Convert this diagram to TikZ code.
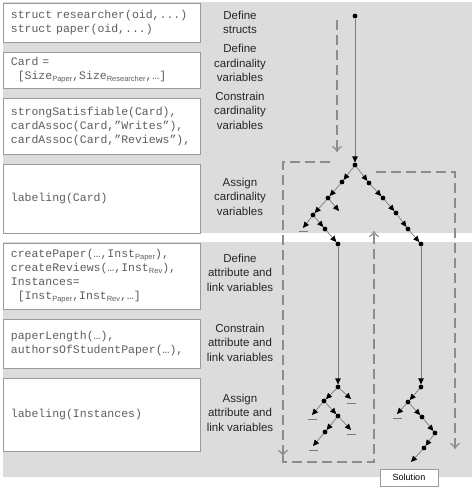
\documentclass[tikz,border=0pt]{standalone}
\usepackage{fontspec}
\setmainfont{Liberation Sans}
\setmonofont{Liberation Mono}
\newfontfamily\subfont{Liberation Sans}
\usetikzlibrary{arrows.meta}
\definecolor{panelgray}{HTML}{DCDCDC}
\definecolor{codegray}{HTML}{5E5E5E}
\definecolor{boxborder}{HTML}{9A9A9A}
\definecolor{treegray}{HTML}{7A7A7A}
\definecolor{dashgray}{HTML}{8C8C8C}
\newcommand{\csub}[1]{\raisebox{-1.8pt}{\subfont\fontsize{7.5}{8}\selectfont #1}}
\begin{document}
\begin{tikzpicture}[x=1pt,y=-1pt,
  codebox/.style={draw=boxborder,fill=white,line width=0.8pt,anchor=north west,
    minimum width=197pt,text width=182pt,align=left,inner xsep=7.5pt,
    font=\fontsize{11.5}{14}\ttfamily,text=codegray},
  lab/.style={align=center,font=\fontsize{11.5}{14.5}\selectfont,text=black!85},
  tdot/.style={circle,fill=black,inner sep=0pt,minimum size=4.8pt},
  treeedge/.style={draw=treegray,line width=0.7pt,-{Triangle[length=6pt,width=5.5pt,color=black]}},
  uline/.style={draw=treegray,line width=0.7pt},
  dpath/.style={draw=dashgray,line width=1.3pt,dash pattern=on 10pt off 5pt},
  darrow/.style={dpath,-{Classical TikZ Rightarrow[length=6pt,width=10pt,line width=1.2pt]}},
  solbox/.style={draw=boxborder,fill=white,line width=0.8pt,minimum width=58pt,minimum height=17pt,inner sep=0pt,font=\fontsize{9}{10}\selectfont}
]
\useasboundingbox (0,0) rectangle (474,488);
% panels
\fill[panelgray] (3,2) rectangle (472,233);
\fill[panelgray] (3,242) rectangle (472,477);

% code boxes
\node[codebox,minimum height=39pt] (c1) at (3,3) {struct researcher(oid,...)\\struct paper(oid,...)};
\node[codebox,minimum height=36pt] (c2) at (3,52) {Card =\\\hspace*{6.9pt}[Size\csub{Paper},Size\csub{Researcher},…]};
\node[codebox,minimum height=56pt] (c3) at (3,98) {strongSatisfiable(Card),\\cardAssoc(Card,”Writes”),\\cardAssoc(Card,”Reviews”),};
\node[codebox,minimum height=69pt] (c4) at (3,164) {labeling(Card)};
\node[codebox,minimum height=66pt] (c5) at (3,243) {createPaper(…,Inst\csub{Paper}),\\createReviews(…,Inst\csub{Rev}),\\Instances=\\\hspace*{6.9pt}[Inst\csub{Paper},Inst\csub{Rev},…]};
\node[codebox,minimum height=49pt] (c6) at (3,319) {paperLength(…),\\authorsOfStudentPaper(…),};
\node[codebox,minimum height=73pt] (c7) at (3,378) {labeling(Instances)};

% labels
\node[lab] (l1) at (240,22.5) {Define\\structs};
\node[lab] (l2) at (240,63) {Define\\cardinality\\variables};
\node[lab] (l3) at (240,110.5) {Constrain\\cardinality\\variables};
\node[lab] (l4) at (240,196.5) {Assign\\cardinality\\variables};
\node[lab] (l5) at (240,272.5) {Define\\attribute and\\link variables};
\node[lab] (l6) at (240,342.5) {Constrain\\attribute and\\link variables};
\node[lab] (l7) at (240,412.5) {Assign\\attribute and\\link variables};

% dashed control flow
\coordinate (d1s) at (337,20);
\coordinate (d1e) at (337,152);
\draw[darrow] (d1s) -- (d1e);
\coordinate (p1) at (330,162);
\coordinate (p2) at (283,162);
\coordinate (p3) at (283,456);
\coordinate (p4) at (283,462);
\coordinate (p5) at (374,462);
\coordinate (p6) at (374,231);
\draw[darrow] (p1) -- (p2) -- (p3);
\draw[darrow] (p3) -- (p4) -- (p5) -- (p6);
\coordinate (q1) at (376,172);
\coordinate (q2) at (455,172);
\coordinate (q3) at (455,449);
\draw[darrow] (q1) -- (q2) -- (q3);

% upper tree
\node[tdot] (r) at (355,16) {};
\node[tdot] (n0) at (355,165) {};
\node[tdot] (a1) at (342,182) {};
\node[tdot] (a2) at (328,198) {};
\node[tdot] (a3) at (313,215) {};
\node[tdot] (a4) at (325,229) {};
\node[tdot] (a5) at (338,244) {};
\coordinate (a2l) at (339,211);
\coordinate (a3l) at (303,228);
\node[tdot] (b1) at (369,183) {};
\node[tdot] (b2) at (383,198) {};
\node[tdot] (b3) at (396,213) {};
\node[tdot] (b4) at (408,229) {};
\node[tdot] (b5) at (421,244) {};
\draw[treeedge] (r) -- (n0);
\draw[treeedge] (n0) -- (a1);
\draw[treeedge] (a1) -- (a2);
\draw[treeedge] (a2) -- (a3);
\draw[treeedge] (a2) -- (a2l);
\draw[treeedge] (a3) -- (a3l);
\draw[uline] ([xshift=-4.5pt,yshift=-3pt]a3l) -- ([xshift=4.5pt,yshift=-3pt]a3l);
\draw[treeedge] (a3) -- (a4);
\draw[treeedge] (a4) -- (a5);
\draw[treeedge] (n0) -- (b1);
\draw[treeedge] (b1) -- (b2);
\draw[treeedge] (b2) -- (b3);
\draw[treeedge] (b3) -- (b4);
\draw[treeedge] (b4) -- (b5);

% lower left tree
\node[tdot] (e0) at (338,387) {};
\node[tdot] (e1) at (324,401) {};
\node[tdot] (e2) at (338,416) {};
\node[tdot] (e3) at (325,432) {};
\coordinate (e0r) at (351,399);
\coordinate (e1l) at (312,415);
\coordinate (e2r) at (351,430);
\coordinate (e3l) at (313,446);
\draw[treeedge] (a5) -- (e0);
\draw[treeedge] (e0) -- (e1);
\draw[treeedge] (e0) -- (e0r);
\draw[treeedge] (e1) -- (e1l);
\draw[treeedge] (e1) -- (e2);
\draw[treeedge] (e2) -- (e2r);
\draw[treeedge] (e2) -- (e3);
\draw[treeedge] (e3) -- (e3l);
\foreach \lf in {e0r,e1l,e2r,e3l}
  \draw[uline] ([xshift=-4.5pt,yshift=-4pt]\lf) -- ([xshift=4.5pt,yshift=-4pt]\lf);

% lower right tree
\node[tdot] (f0) at (421,387) {};
\node[tdot] (f1) at (408,402) {};
\node[tdot] (f2) at (422,417) {};
\node[tdot] (f3) at (435,433) {};
\node[tdot] (f4) at (424,448) {};
\coordinate (f1l) at (397,414);
\coordinate (f4l) at (411,462);
\draw[treeedge] (b5) -- (f0);
\draw[treeedge] (f0) -- (f1);
\draw[treeedge] (f1) -- (f1l);
\draw[uline] ([xshift=-4.5pt,yshift=-4pt]f1l) -- ([xshift=4.5pt,yshift=-4pt]f1l);
\draw[treeedge] (f1) -- (f2);
\draw[treeedge] (f2) -- (f3);
\draw[treeedge] (f3) -- (f4);
\draw[treeedge] (f4) -- (f4l);

\node[solbox] (sol) at (409,477.5) {Solution};
\end{tikzpicture}
\end{document}
